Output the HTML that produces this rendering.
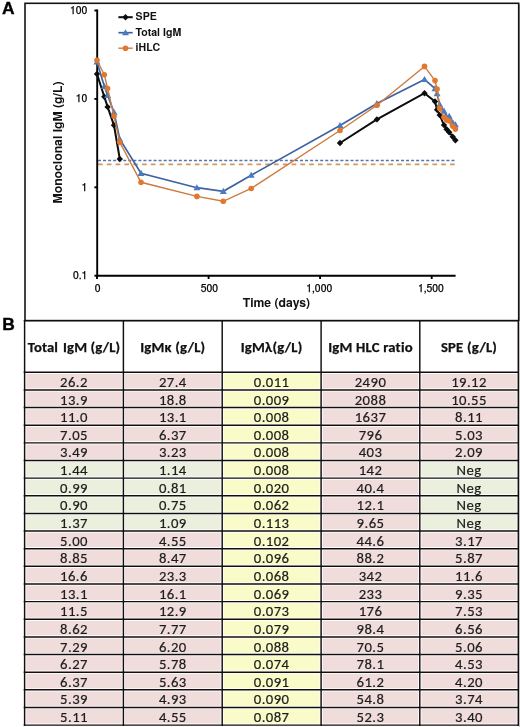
<!DOCTYPE html>
<html><head><meta charset="utf-8"><title>Monoclonal IgM over time</title>
<style>
html,body{margin:0;padding:0;background:#fff;}
body{width:520px;height:727px;position:relative;overflow:hidden;}
.pl{font:bold 17.4px "Liberation Sans",Arial,sans-serif;fill:#000;stroke:#000;stroke-width:0.35px}
.tk{font:10.4px "TeX Gyre Heros","Liberation Sans",Arial,sans-serif;fill:#000;stroke:#000;stroke-width:0.25px}
.ax{font:bold 12.2px "TeX Gyre Heros","Liberation Sans",Arial,sans-serif;fill:#111}
.lg{font:bold 10.6px "TeX Gyre Heros","Liberation Sans",Arial,sans-serif;fill:#111}
.th{font:bold 14.7px Carlito,"Liberation Sans",sans-serif;letter-spacing:0.2px;fill:#111;stroke:#111;stroke-width:0.25px}
.td{font:14.7px Carlito,"Liberation Sans",sans-serif;letter-spacing:0.45px;fill:#1c1c1c;stroke:#1c1c1c;stroke-width:0.2px}
</style></head>
<body>
<svg width="520" height="727" viewBox="0 0 520 727" style="position:absolute;left:0;top:0">
<text x="2.0" y="14.35" class="pl">A</text>
<text x="2.2" y="330.3" class="pl">B</text>
<rect x="25" y="3.3" width="493.7" height="317.3" fill="none" stroke="#141414" stroke-width="1.6"/>
<line x1="97" y1="160.5" x2="455.6" y2="160.5" stroke="#5276b0" stroke-width="1.6" stroke-dasharray="3 2.05" stroke-dashoffset="-1"/>
<line x1="97" y1="164.4" x2="455.6" y2="164.4" stroke="#d4965e" stroke-width="1.6" stroke-dasharray="4.7 4.1" stroke-dashoffset="-1"/>
<g stroke="#000" stroke-width="1.9" fill="none">
<line x1="97.2" y1="9.6" x2="97.2" y2="276.6"/>
<line x1="96.3" y1="275.7" x2="455.6" y2="275.7"/>
<line x1="94.4" y1="275.7" x2="97.2" y2="275.7"/>
<line x1="94.4" y1="187.3" x2="97.2" y2="187.3"/>
<line x1="94.4" y1="98.9" x2="97.2" y2="98.9"/>
<line x1="94.4" y1="10.5" x2="97.2" y2="10.5"/>
<line x1="97.0" y1="275.7" x2="97.0" y2="279"/>
<line x1="208.6" y1="275.7" x2="208.6" y2="279"/>
<line x1="320.1" y1="275.7" x2="320.1" y2="279"/>
<line x1="431.7" y1="275.7" x2="431.7" y2="279"/>
</g>
<text x="87.4" y="13.8" class="tk" text-anchor="end">100</text>
<text x="87.4" y="102.2" class="tk" text-anchor="end">10</text>
<text x="87.4" y="190.6" class="tk" text-anchor="end">1</text>
<text x="87.4" y="279.1" class="tk" text-anchor="end">0.1</text>
<text x="97.6" y="291.9" class="tk" text-anchor="middle">0</text>
<text x="209.3" y="291.9" class="tk" text-anchor="middle">500</text>
<text x="319.2" y="291.9" class="tk" text-anchor="middle">1,000</text>
<text x="430.9" y="291.9" class="tk" text-anchor="middle">1,500</text>
<text x="276.4" y="307" class="ax" text-anchor="middle">Time (days)</text>
<text transform="translate(62.2 142.5) rotate(-90)" class="ax" text-anchor="middle">Monoclonal IgM (g/L)</text>
<polyline points="97.0,74.0 104.3,96.8 107.6,106.9 114.0,125.3 119.8,159.0" fill="none" stroke="#0d0d0d" stroke-width="2.0"/>
<polyline points="340.0,143.0 376.9,119.4 424.5,93.2 435.0,101.5 437.1,109.8 439.7,115.1 444.0,125.1 446.6,129.3 449.2,132.2 452.7,136.7 455.4,140.3" fill="none" stroke="#0d0d0d" stroke-width="2.0"/>
<g fill="#0d0d0d"><path d="M97.0 70.8L100.2 74.0L97.0 77.2L93.8 74.0Z"/><path d="M104.3 93.6L107.5 96.8L104.3 100.0L101.1 96.8Z"/><path d="M107.6 103.7L110.8 106.9L107.6 110.1L104.4 106.9Z"/><path d="M114.0 122.1L117.2 125.3L114.0 128.5L110.8 125.3Z"/><path d="M119.8 155.8L123.0 159.0L119.8 162.2L116.6 159.0Z"/><path d="M340.0 139.8L343.2 143.0L340.0 146.2L336.8 143.0Z"/><path d="M376.9 116.2L380.1 119.4L376.9 122.6L373.7 119.4Z"/><path d="M424.5 90.0L427.7 93.2L424.5 96.4L421.3 93.2Z"/><path d="M435.0 98.3L438.2 101.5L435.0 104.7L431.8 101.5Z"/><path d="M437.1 106.6L440.3 109.8L437.1 113.0L433.9 109.8Z"/><path d="M439.7 111.9L442.9 115.1L439.7 118.3L436.5 115.1Z"/><path d="M444.0 121.9L447.2 125.1L444.0 128.3L440.8 125.1Z"/><path d="M446.6 126.1L449.8 129.3L446.6 132.5L443.4 129.3Z"/><path d="M449.2 129.0L452.4 132.2L449.2 135.4L446.0 132.2Z"/><path d="M452.7 133.5L455.9 136.7L452.7 139.9L449.5 136.7Z"/><path d="M455.4 137.1L458.6 140.3L455.4 143.5L452.2 140.3Z"/></g>
<polyline points="97.0,61.9 104.3,86.3 107.6,95.2 114.0,112.3 119.8,139.3 141.0,173.3 196.9,187.7 223.3,191.3 251.2,175.2 340.0,125.5 376.9,103.6 424.5,79.4 435.0,88.5 437.1,93.5 439.7,104.6 444.0,111.0 446.6,116.8 449.2,116.2 452.7,122.6 455.4,124.7" fill="none" stroke="#3d62a3" stroke-width="1.7"/>
<g fill="#4a7bbd"><path d="M97.0 58.4L100.5 64.5L93.5 64.5Z"/><path d="M104.3 82.8L107.8 88.9L100.8 88.9Z"/><path d="M107.6 91.7L111.1 97.9L104.1 97.9Z"/><path d="M114.0 108.8L117.5 114.9L110.5 114.9Z"/><path d="M119.8 135.8L123.3 141.9L116.3 141.9Z"/><path d="M141.0 169.8L144.5 175.9L137.5 175.9Z"/><path d="M196.9 184.2L200.4 190.3L193.4 190.3Z"/><path d="M223.3 187.8L226.8 194.0L219.8 194.0Z"/><path d="M251.2 171.7L254.7 177.8L247.7 177.8Z"/><path d="M340.0 122.0L343.5 128.1L336.5 128.1Z"/><path d="M376.9 100.1L380.4 106.2L373.4 106.2Z"/><path d="M424.5 75.9L428.0 82.1L421.0 82.1Z"/><path d="M435.0 85.0L438.5 91.2L431.5 91.2Z"/><path d="M437.1 90.0L440.6 96.2L433.6 96.2Z"/><path d="M439.7 101.1L443.2 107.2L436.2 107.2Z"/><path d="M444.0 107.5L447.5 113.7L440.5 113.7Z"/><path d="M446.6 113.3L450.1 119.4L443.1 119.4Z"/><path d="M449.2 112.7L452.7 118.8L445.7 118.8Z"/><path d="M452.7 119.1L456.2 125.3L449.2 125.3Z"/><path d="M455.4 121.2L458.9 127.3L451.9 127.3Z"/></g>
<polyline points="97.0,60.2 104.3,74.7 107.6,88.5 114.0,116.2 119.8,142.3 141.0,182.3 196.9,196.4 223.3,201.3 251.2,188.5 340.0,130.5 376.9,105.3 424.5,66.4 435.0,80.6 437.1,89.1 439.7,108.6 444.0,117.3 446.6,119.9 449.2,121.0 452.7,126.1 455.4,129.1" fill="none" stroke="#cc7b3e" stroke-width="1.4"/>
<g fill="#e3772c"><circle cx="97.0" cy="60.2" r="2.8"/><circle cx="104.3" cy="74.7" r="2.8"/><circle cx="107.6" cy="88.5" r="2.8"/><circle cx="114.0" cy="116.2" r="2.8"/><circle cx="119.8" cy="142.3" r="2.8"/><circle cx="141.0" cy="182.3" r="2.8"/><circle cx="196.9" cy="196.4" r="2.8"/><circle cx="223.3" cy="201.3" r="2.8"/><circle cx="251.2" cy="188.5" r="2.8"/><circle cx="340.0" cy="130.5" r="2.8"/><circle cx="376.9" cy="105.3" r="2.8"/><circle cx="424.5" cy="66.4" r="2.8"/><circle cx="435.0" cy="80.6" r="2.8"/><circle cx="437.1" cy="89.1" r="2.8"/><circle cx="439.7" cy="108.6" r="2.8"/><circle cx="444.0" cy="117.3" r="2.8"/><circle cx="446.6" cy="119.9" r="2.8"/><circle cx="449.2" cy="121.0" r="2.8"/><circle cx="452.7" cy="126.1" r="2.8"/><circle cx="455.4" cy="129.1" r="2.8"/></g>
<line x1="118.4" y1="17.2" x2="132.7" y2="17.2" stroke="#0d0d0d" stroke-width="2.0"/>
<g fill="#0d0d0d"><path d="M125.5 14.0L128.7 17.2L125.5 20.4L122.3 17.2Z"/></g>
<text x="135.6" y="20.3" class="lg">SPE</text>
<line x1="118.4" y1="32.7" x2="132.7" y2="32.7" stroke="#3d62a3" stroke-width="1.7"/>
<g fill="#4a7bbd"><path d="M125.5 29.2L129.0 35.3L122.0 35.3Z"/></g>
<text x="135.6" y="35.8" class="lg">Total IgM</text>
<line x1="118.4" y1="48.2" x2="132.7" y2="48.2" stroke="#cc7b3e" stroke-width="1.4"/>
<g fill="#e3772c"><circle cx="125.5" cy="48.2" r="2.8"/></g>
<text x="135.6" y="51.3" class="lg">iHLC</text>
<rect x="26.20" y="373.90" width="95.60" height="14.44" fill="#f1dcdc"/>
<rect x="125.00" y="373.90" width="95.60" height="14.44" fill="#f1dcdc"/>
<rect x="223.80" y="373.90" width="95.70" height="14.44" fill="#f9fcc9"/>
<rect x="322.70" y="373.90" width="95.50" height="14.44" fill="#f1dcdc"/>
<rect x="421.40" y="373.90" width="95.30" height="14.44" fill="#f1dcdc"/>
<rect x="26.20" y="391.54" width="95.60" height="14.44" fill="#f1dcdc"/>
<rect x="125.00" y="391.54" width="95.60" height="14.44" fill="#f1dcdc"/>
<rect x="223.80" y="391.54" width="95.70" height="14.44" fill="#f9fcc9"/>
<rect x="322.70" y="391.54" width="95.50" height="14.44" fill="#f1dcdc"/>
<rect x="421.40" y="391.54" width="95.30" height="14.44" fill="#f1dcdc"/>
<rect x="26.20" y="409.18" width="95.60" height="14.44" fill="#f1dcdc"/>
<rect x="125.00" y="409.18" width="95.60" height="14.44" fill="#f1dcdc"/>
<rect x="223.80" y="409.18" width="95.70" height="14.44" fill="#f9fcc9"/>
<rect x="322.70" y="409.18" width="95.50" height="14.44" fill="#f1dcdc"/>
<rect x="421.40" y="409.18" width="95.30" height="14.44" fill="#f1dcdc"/>
<rect x="26.20" y="426.82" width="95.60" height="14.44" fill="#f1dcdc"/>
<rect x="125.00" y="426.82" width="95.60" height="14.44" fill="#f1dcdc"/>
<rect x="223.80" y="426.82" width="95.70" height="14.44" fill="#f9fcc9"/>
<rect x="322.70" y="426.82" width="95.50" height="14.44" fill="#f1dcdc"/>
<rect x="421.40" y="426.82" width="95.30" height="14.44" fill="#f1dcdc"/>
<rect x="26.20" y="444.46" width="95.60" height="14.44" fill="#f1dcdc"/>
<rect x="125.00" y="444.46" width="95.60" height="14.44" fill="#f1dcdc"/>
<rect x="223.80" y="444.46" width="95.70" height="14.44" fill="#f9fcc9"/>
<rect x="322.70" y="444.46" width="95.50" height="14.44" fill="#f1dcdc"/>
<rect x="421.40" y="444.46" width="95.30" height="14.44" fill="#f1dcdc"/>
<rect x="26.20" y="462.10" width="95.60" height="14.44" fill="#ebefde"/>
<rect x="125.00" y="462.10" width="95.60" height="14.44" fill="#ebefde"/>
<rect x="223.80" y="462.10" width="95.70" height="14.44" fill="#f9fcc9"/>
<rect x="322.70" y="462.10" width="95.50" height="14.44" fill="#f1dcdc"/>
<rect x="421.40" y="462.10" width="95.30" height="14.44" fill="#ebefde"/>
<rect x="26.20" y="479.74" width="95.60" height="14.44" fill="#ebefde"/>
<rect x="125.00" y="479.74" width="95.60" height="14.44" fill="#ebefde"/>
<rect x="223.80" y="479.74" width="95.70" height="14.44" fill="#f9fcc9"/>
<rect x="322.70" y="479.74" width="95.50" height="14.44" fill="#f1dcdc"/>
<rect x="421.40" y="479.74" width="95.30" height="14.44" fill="#ebefde"/>
<rect x="26.20" y="497.38" width="95.60" height="14.44" fill="#ebefde"/>
<rect x="125.00" y="497.38" width="95.60" height="14.44" fill="#ebefde"/>
<rect x="223.80" y="497.38" width="95.70" height="14.44" fill="#f9fcc9"/>
<rect x="322.70" y="497.38" width="95.50" height="14.44" fill="#f1dcdc"/>
<rect x="421.40" y="497.38" width="95.30" height="14.44" fill="#ebefde"/>
<rect x="26.20" y="515.02" width="95.60" height="14.44" fill="#ebefde"/>
<rect x="125.00" y="515.02" width="95.60" height="14.44" fill="#ebefde"/>
<rect x="223.80" y="515.02" width="95.70" height="14.44" fill="#f9fcc9"/>
<rect x="322.70" y="515.02" width="95.50" height="14.44" fill="#f1dcdc"/>
<rect x="421.40" y="515.02" width="95.30" height="14.44" fill="#ebefde"/>
<rect x="26.20" y="532.66" width="95.60" height="14.44" fill="#f1dcdc"/>
<rect x="125.00" y="532.66" width="95.60" height="14.44" fill="#f1dcdc"/>
<rect x="223.80" y="532.66" width="95.70" height="14.44" fill="#f9fcc9"/>
<rect x="322.70" y="532.66" width="95.50" height="14.44" fill="#f1dcdc"/>
<rect x="421.40" y="532.66" width="95.30" height="14.44" fill="#f1dcdc"/>
<rect x="26.20" y="550.30" width="95.60" height="14.44" fill="#f1dcdc"/>
<rect x="125.00" y="550.30" width="95.60" height="14.44" fill="#f1dcdc"/>
<rect x="223.80" y="550.30" width="95.70" height="14.44" fill="#f9fcc9"/>
<rect x="322.70" y="550.30" width="95.50" height="14.44" fill="#f1dcdc"/>
<rect x="421.40" y="550.30" width="95.30" height="14.44" fill="#f1dcdc"/>
<rect x="26.20" y="567.94" width="95.60" height="14.44" fill="#f1dcdc"/>
<rect x="125.00" y="567.94" width="95.60" height="14.44" fill="#f1dcdc"/>
<rect x="223.80" y="567.94" width="95.70" height="14.44" fill="#f9fcc9"/>
<rect x="322.70" y="567.94" width="95.50" height="14.44" fill="#f1dcdc"/>
<rect x="421.40" y="567.94" width="95.30" height="14.44" fill="#f1dcdc"/>
<rect x="26.20" y="585.58" width="95.60" height="14.44" fill="#f1dcdc"/>
<rect x="125.00" y="585.58" width="95.60" height="14.44" fill="#f1dcdc"/>
<rect x="223.80" y="585.58" width="95.70" height="14.44" fill="#f9fcc9"/>
<rect x="322.70" y="585.58" width="95.50" height="14.44" fill="#f1dcdc"/>
<rect x="421.40" y="585.58" width="95.30" height="14.44" fill="#f1dcdc"/>
<rect x="26.20" y="603.22" width="95.60" height="14.44" fill="#f1dcdc"/>
<rect x="125.00" y="603.22" width="95.60" height="14.44" fill="#f1dcdc"/>
<rect x="223.80" y="603.22" width="95.70" height="14.44" fill="#f9fcc9"/>
<rect x="322.70" y="603.22" width="95.50" height="14.44" fill="#f1dcdc"/>
<rect x="421.40" y="603.22" width="95.30" height="14.44" fill="#f1dcdc"/>
<rect x="26.20" y="620.86" width="95.60" height="14.44" fill="#f1dcdc"/>
<rect x="125.00" y="620.86" width="95.60" height="14.44" fill="#f1dcdc"/>
<rect x="223.80" y="620.86" width="95.70" height="14.44" fill="#f9fcc9"/>
<rect x="322.70" y="620.86" width="95.50" height="14.44" fill="#f1dcdc"/>
<rect x="421.40" y="620.86" width="95.30" height="14.44" fill="#f1dcdc"/>
<rect x="26.20" y="638.50" width="95.60" height="14.44" fill="#f1dcdc"/>
<rect x="125.00" y="638.50" width="95.60" height="14.44" fill="#f1dcdc"/>
<rect x="223.80" y="638.50" width="95.70" height="14.44" fill="#f9fcc9"/>
<rect x="322.70" y="638.50" width="95.50" height="14.44" fill="#f1dcdc"/>
<rect x="421.40" y="638.50" width="95.30" height="14.44" fill="#f1dcdc"/>
<rect x="26.20" y="656.14" width="95.60" height="14.44" fill="#f1dcdc"/>
<rect x="125.00" y="656.14" width="95.60" height="14.44" fill="#f1dcdc"/>
<rect x="223.80" y="656.14" width="95.70" height="14.44" fill="#f9fcc9"/>
<rect x="322.70" y="656.14" width="95.50" height="14.44" fill="#f1dcdc"/>
<rect x="421.40" y="656.14" width="95.30" height="14.44" fill="#f1dcdc"/>
<rect x="26.20" y="673.78" width="95.60" height="14.44" fill="#f1dcdc"/>
<rect x="125.00" y="673.78" width="95.60" height="14.44" fill="#f1dcdc"/>
<rect x="223.80" y="673.78" width="95.70" height="14.44" fill="#f9fcc9"/>
<rect x="322.70" y="673.78" width="95.50" height="14.44" fill="#f1dcdc"/>
<rect x="421.40" y="673.78" width="95.30" height="14.44" fill="#f1dcdc"/>
<rect x="26.20" y="691.42" width="95.60" height="14.44" fill="#f1dcdc"/>
<rect x="125.00" y="691.42" width="95.60" height="14.44" fill="#f1dcdc"/>
<rect x="223.80" y="691.42" width="95.70" height="14.44" fill="#f9fcc9"/>
<rect x="322.70" y="691.42" width="95.50" height="14.44" fill="#f1dcdc"/>
<rect x="421.40" y="691.42" width="95.30" height="14.44" fill="#f1dcdc"/>
<rect x="26.20" y="709.06" width="95.60" height="14.44" fill="#f1dcdc"/>
<rect x="125.00" y="709.06" width="95.60" height="14.44" fill="#f1dcdc"/>
<rect x="223.80" y="709.06" width="95.70" height="14.44" fill="#f9fcc9"/>
<rect x="322.70" y="709.06" width="95.50" height="14.44" fill="#f1dcdc"/>
<rect x="421.40" y="709.06" width="95.30" height="14.44" fill="#f1dcdc"/>
<g stroke="#120e0e" stroke-width="1.45">
<line x1="24.60" y1="320.60" x2="24.60" y2="726.00"/>
<line x1="123.40" y1="320.60" x2="123.40" y2="726.00"/>
<line x1="222.20" y1="320.60" x2="222.20" y2="726.00"/>
<line x1="321.10" y1="320.60" x2="321.10" y2="726.00"/>
<line x1="419.80" y1="320.60" x2="419.80" y2="726.00"/>
<line x1="518.30" y1="320.60" x2="518.30" y2="726.00"/>
<line x1="23.70" y1="320.60" x2="519.20" y2="320.60"/>
<line x1="23.70" y1="372.30" x2="519.20" y2="372.30"/>
<line x1="23.70" y1="389.94" x2="519.20" y2="389.94"/>
<line x1="23.70" y1="407.58" x2="519.20" y2="407.58"/>
<line x1="23.70" y1="425.22" x2="519.20" y2="425.22"/>
<line x1="23.70" y1="442.86" x2="519.20" y2="442.86"/>
<line x1="23.70" y1="460.50" x2="519.20" y2="460.50"/>
<line x1="23.70" y1="478.14" x2="519.20" y2="478.14"/>
<line x1="23.70" y1="495.78" x2="519.20" y2="495.78"/>
<line x1="23.70" y1="513.42" x2="519.20" y2="513.42"/>
<line x1="23.70" y1="531.06" x2="519.20" y2="531.06"/>
<line x1="23.70" y1="548.70" x2="519.20" y2="548.70"/>
<line x1="23.70" y1="566.34" x2="519.20" y2="566.34"/>
<line x1="23.70" y1="583.98" x2="519.20" y2="583.98"/>
<line x1="23.70" y1="601.62" x2="519.20" y2="601.62"/>
<line x1="23.70" y1="619.26" x2="519.20" y2="619.26"/>
<line x1="23.70" y1="636.90" x2="519.20" y2="636.90"/>
<line x1="23.70" y1="654.54" x2="519.20" y2="654.54"/>
<line x1="23.70" y1="672.18" x2="519.20" y2="672.18"/>
<line x1="23.70" y1="689.82" x2="519.20" y2="689.82"/>
<line x1="23.70" y1="707.46" x2="519.20" y2="707.46"/>
<line x1="23.70" y1="725.10" x2="519.20" y2="725.10"/>
</g>
<text x="74.0" y="352.2" class="th" text-anchor="middle" style="letter-spacing:0.1px" textLength="92.32" lengthAdjust="spacingAndGlyphs">Total<tspan dx="1.6"> IgM (g/L)</tspan></text>
<text x="172.8" y="352.2" class="th" text-anchor="middle" textLength="65.16" lengthAdjust="spacingAndGlyphs">IgMκ (g/L)</text>
<text x="271.6" y="352.2" class="th" text-anchor="middle" textLength="61.73" lengthAdjust="spacingAndGlyphs">IgMλ(g/L)</text>
<text x="370.5" y="352.2" class="th" text-anchor="middle" textLength="84.64" lengthAdjust="spacingAndGlyphs">IgM HLC ratio</text>
<text x="469.0" y="352.2" class="th" text-anchor="middle" textLength="56.19" lengthAdjust="spacingAndGlyphs">SPE (g/L)</text>
<text x="74.0" y="386.90" class="td" text-anchor="middle" textLength="27.84" lengthAdjust="spacingAndGlyphs">26.2</text>
<text x="172.8" y="386.90" class="td" text-anchor="middle" textLength="27.84" lengthAdjust="spacingAndGlyphs">27.4</text>
<text x="271.6" y="386.90" class="td" text-anchor="middle" textLength="35.73" lengthAdjust="spacingAndGlyphs">0.011</text>
<text x="370.5" y="386.90" class="td" text-anchor="middle" textLength="31.58" lengthAdjust="spacingAndGlyphs">2490</text>
<text x="469.0" y="386.90" class="td" text-anchor="middle" textLength="35.73" lengthAdjust="spacingAndGlyphs">19.12</text>
<text x="74.0" y="404.54" class="td" text-anchor="middle" textLength="27.84" lengthAdjust="spacingAndGlyphs">13.9</text>
<text x="172.8" y="404.54" class="td" text-anchor="middle" textLength="27.84" lengthAdjust="spacingAndGlyphs">18.8</text>
<text x="271.6" y="404.54" class="td" text-anchor="middle" textLength="35.73" lengthAdjust="spacingAndGlyphs">0.009</text>
<text x="370.5" y="404.54" class="td" text-anchor="middle" textLength="31.58" lengthAdjust="spacingAndGlyphs">2088</text>
<text x="469.0" y="404.54" class="td" text-anchor="middle" textLength="35.73" lengthAdjust="spacingAndGlyphs">10.55</text>
<text x="74.0" y="422.18" class="td" text-anchor="middle" textLength="27.84" lengthAdjust="spacingAndGlyphs">11.0</text>
<text x="172.8" y="422.18" class="td" text-anchor="middle" textLength="27.84" lengthAdjust="spacingAndGlyphs">13.1</text>
<text x="271.6" y="422.18" class="td" text-anchor="middle" textLength="35.73" lengthAdjust="spacingAndGlyphs">0.008</text>
<text x="370.5" y="422.18" class="td" text-anchor="middle" textLength="31.58" lengthAdjust="spacingAndGlyphs">1637</text>
<text x="469.0" y="422.18" class="td" text-anchor="middle" textLength="27.84" lengthAdjust="spacingAndGlyphs">8.11</text>
<text x="74.0" y="439.82" class="td" text-anchor="middle" textLength="27.84" lengthAdjust="spacingAndGlyphs">7.05</text>
<text x="172.8" y="439.82" class="td" text-anchor="middle" textLength="27.84" lengthAdjust="spacingAndGlyphs">6.37</text>
<text x="271.6" y="439.82" class="td" text-anchor="middle" textLength="35.73" lengthAdjust="spacingAndGlyphs">0.008</text>
<text x="370.5" y="439.82" class="td" text-anchor="middle" textLength="23.69" lengthAdjust="spacingAndGlyphs">796</text>
<text x="469.0" y="439.82" class="td" text-anchor="middle" textLength="27.84" lengthAdjust="spacingAndGlyphs">5.03</text>
<text x="74.0" y="457.46" class="td" text-anchor="middle" textLength="27.84" lengthAdjust="spacingAndGlyphs">3.49</text>
<text x="172.8" y="457.46" class="td" text-anchor="middle" textLength="27.84" lengthAdjust="spacingAndGlyphs">3.23</text>
<text x="271.6" y="457.46" class="td" text-anchor="middle" textLength="35.73" lengthAdjust="spacingAndGlyphs">0.008</text>
<text x="370.5" y="457.46" class="td" text-anchor="middle" textLength="23.69" lengthAdjust="spacingAndGlyphs">403</text>
<text x="469.0" y="457.46" class="td" text-anchor="middle" textLength="27.84" lengthAdjust="spacingAndGlyphs">2.09</text>
<text x="74.0" y="475.10" class="td" text-anchor="middle" textLength="27.84" lengthAdjust="spacingAndGlyphs">1.44</text>
<text x="172.8" y="475.10" class="td" text-anchor="middle" textLength="27.84" lengthAdjust="spacingAndGlyphs">1.14</text>
<text x="271.6" y="475.10" class="td" text-anchor="middle" textLength="35.73" lengthAdjust="spacingAndGlyphs">0.008</text>
<text x="370.5" y="475.10" class="td" text-anchor="middle" textLength="23.69" lengthAdjust="spacingAndGlyphs">142</text>
<text x="469.0" y="475.10" class="td" text-anchor="middle" textLength="25.06" lengthAdjust="spacingAndGlyphs">Neg</text>
<text x="74.0" y="492.74" class="td" text-anchor="middle" textLength="27.84" lengthAdjust="spacingAndGlyphs">0.99</text>
<text x="172.8" y="492.74" class="td" text-anchor="middle" textLength="27.84" lengthAdjust="spacingAndGlyphs">0.81</text>
<text x="271.6" y="492.74" class="td" text-anchor="middle" textLength="35.73" lengthAdjust="spacingAndGlyphs">0.020</text>
<text x="370.5" y="492.74" class="td" text-anchor="middle" textLength="27.84" lengthAdjust="spacingAndGlyphs">40.4</text>
<text x="469.0" y="492.74" class="td" text-anchor="middle" textLength="25.06" lengthAdjust="spacingAndGlyphs">Neg</text>
<text x="74.0" y="510.38" class="td" text-anchor="middle" textLength="27.84" lengthAdjust="spacingAndGlyphs">0.90</text>
<text x="172.8" y="510.38" class="td" text-anchor="middle" textLength="27.84" lengthAdjust="spacingAndGlyphs">0.75</text>
<text x="271.6" y="510.38" class="td" text-anchor="middle" textLength="35.73" lengthAdjust="spacingAndGlyphs">0.062</text>
<text x="370.5" y="510.38" class="td" text-anchor="middle" textLength="27.84" lengthAdjust="spacingAndGlyphs">12.1</text>
<text x="469.0" y="510.38" class="td" text-anchor="middle" textLength="25.06" lengthAdjust="spacingAndGlyphs">Neg</text>
<text x="74.0" y="528.02" class="td" text-anchor="middle" textLength="27.84" lengthAdjust="spacingAndGlyphs">1.37</text>
<text x="172.8" y="528.02" class="td" text-anchor="middle" textLength="27.84" lengthAdjust="spacingAndGlyphs">1.09</text>
<text x="271.6" y="528.02" class="td" text-anchor="middle" textLength="35.73" lengthAdjust="spacingAndGlyphs">0.113</text>
<text x="370.5" y="528.02" class="td" text-anchor="middle" textLength="27.84" lengthAdjust="spacingAndGlyphs">9.65</text>
<text x="469.0" y="528.02" class="td" text-anchor="middle" textLength="25.06" lengthAdjust="spacingAndGlyphs">Neg</text>
<text x="74.0" y="545.66" class="td" text-anchor="middle" textLength="27.84" lengthAdjust="spacingAndGlyphs">5.00</text>
<text x="172.8" y="545.66" class="td" text-anchor="middle" textLength="27.84" lengthAdjust="spacingAndGlyphs">4.55</text>
<text x="271.6" y="545.66" class="td" text-anchor="middle" textLength="35.73" lengthAdjust="spacingAndGlyphs">0.102</text>
<text x="370.5" y="545.66" class="td" text-anchor="middle" textLength="27.84" lengthAdjust="spacingAndGlyphs">44.6</text>
<text x="469.0" y="545.66" class="td" text-anchor="middle" textLength="27.84" lengthAdjust="spacingAndGlyphs">3.17</text>
<text x="74.0" y="563.30" class="td" text-anchor="middle" textLength="27.84" lengthAdjust="spacingAndGlyphs">8.85</text>
<text x="172.8" y="563.30" class="td" text-anchor="middle" textLength="27.84" lengthAdjust="spacingAndGlyphs">8.47</text>
<text x="271.6" y="563.30" class="td" text-anchor="middle" textLength="35.73" lengthAdjust="spacingAndGlyphs">0.096</text>
<text x="370.5" y="563.30" class="td" text-anchor="middle" textLength="27.84" lengthAdjust="spacingAndGlyphs">88.2</text>
<text x="469.0" y="563.30" class="td" text-anchor="middle" textLength="27.84" lengthAdjust="spacingAndGlyphs">5.87</text>
<text x="74.0" y="580.94" class="td" text-anchor="middle" textLength="27.84" lengthAdjust="spacingAndGlyphs">16.6</text>
<text x="172.8" y="580.94" class="td" text-anchor="middle" textLength="27.84" lengthAdjust="spacingAndGlyphs">23.3</text>
<text x="271.6" y="580.94" class="td" text-anchor="middle" textLength="35.73" lengthAdjust="spacingAndGlyphs">0.068</text>
<text x="370.5" y="580.94" class="td" text-anchor="middle" textLength="23.69" lengthAdjust="spacingAndGlyphs">342</text>
<text x="469.0" y="580.94" class="td" text-anchor="middle" textLength="27.84" lengthAdjust="spacingAndGlyphs">11.6</text>
<text x="74.0" y="598.58" class="td" text-anchor="middle" textLength="27.84" lengthAdjust="spacingAndGlyphs">13.1</text>
<text x="172.8" y="598.58" class="td" text-anchor="middle" textLength="27.84" lengthAdjust="spacingAndGlyphs">16.1</text>
<text x="271.6" y="598.58" class="td" text-anchor="middle" textLength="35.73" lengthAdjust="spacingAndGlyphs">0.069</text>
<text x="370.5" y="598.58" class="td" text-anchor="middle" textLength="23.69" lengthAdjust="spacingAndGlyphs">233</text>
<text x="469.0" y="598.58" class="td" text-anchor="middle" textLength="27.84" lengthAdjust="spacingAndGlyphs">9.35</text>
<text x="74.0" y="616.22" class="td" text-anchor="middle" textLength="27.84" lengthAdjust="spacingAndGlyphs">11.5</text>
<text x="172.8" y="616.22" class="td" text-anchor="middle" textLength="27.84" lengthAdjust="spacingAndGlyphs">12.9</text>
<text x="271.6" y="616.22" class="td" text-anchor="middle" textLength="35.73" lengthAdjust="spacingAndGlyphs">0.073</text>
<text x="370.5" y="616.22" class="td" text-anchor="middle" textLength="23.69" lengthAdjust="spacingAndGlyphs">176</text>
<text x="469.0" y="616.22" class="td" text-anchor="middle" textLength="27.84" lengthAdjust="spacingAndGlyphs">7.53</text>
<text x="74.0" y="633.86" class="td" text-anchor="middle" textLength="27.84" lengthAdjust="spacingAndGlyphs">8.62</text>
<text x="172.8" y="633.86" class="td" text-anchor="middle" textLength="27.84" lengthAdjust="spacingAndGlyphs">7.77</text>
<text x="271.6" y="633.86" class="td" text-anchor="middle" textLength="35.73" lengthAdjust="spacingAndGlyphs">0.079</text>
<text x="370.5" y="633.86" class="td" text-anchor="middle" textLength="27.84" lengthAdjust="spacingAndGlyphs">98.4</text>
<text x="469.0" y="633.86" class="td" text-anchor="middle" textLength="27.84" lengthAdjust="spacingAndGlyphs">6.56</text>
<text x="74.0" y="651.50" class="td" text-anchor="middle" textLength="27.84" lengthAdjust="spacingAndGlyphs">7.29</text>
<text x="172.8" y="651.50" class="td" text-anchor="middle" textLength="27.84" lengthAdjust="spacingAndGlyphs">6.20</text>
<text x="271.6" y="651.50" class="td" text-anchor="middle" textLength="35.73" lengthAdjust="spacingAndGlyphs">0.088</text>
<text x="370.5" y="651.50" class="td" text-anchor="middle" textLength="27.84" lengthAdjust="spacingAndGlyphs">70.5</text>
<text x="469.0" y="651.50" class="td" text-anchor="middle" textLength="27.84" lengthAdjust="spacingAndGlyphs">5.06</text>
<text x="74.0" y="669.14" class="td" text-anchor="middle" textLength="27.84" lengthAdjust="spacingAndGlyphs">6.27</text>
<text x="172.8" y="669.14" class="td" text-anchor="middle" textLength="27.84" lengthAdjust="spacingAndGlyphs">5.78</text>
<text x="271.6" y="669.14" class="td" text-anchor="middle" textLength="35.73" lengthAdjust="spacingAndGlyphs">0.074</text>
<text x="370.5" y="669.14" class="td" text-anchor="middle" textLength="27.84" lengthAdjust="spacingAndGlyphs">78.1</text>
<text x="469.0" y="669.14" class="td" text-anchor="middle" textLength="27.84" lengthAdjust="spacingAndGlyphs">4.53</text>
<text x="74.0" y="686.78" class="td" text-anchor="middle" textLength="27.84" lengthAdjust="spacingAndGlyphs">6.37</text>
<text x="172.8" y="686.78" class="td" text-anchor="middle" textLength="27.84" lengthAdjust="spacingAndGlyphs">5.63</text>
<text x="271.6" y="686.78" class="td" text-anchor="middle" textLength="35.73" lengthAdjust="spacingAndGlyphs">0.091</text>
<text x="370.5" y="686.78" class="td" text-anchor="middle" textLength="27.84" lengthAdjust="spacingAndGlyphs">61.2</text>
<text x="469.0" y="686.78" class="td" text-anchor="middle" textLength="27.84" lengthAdjust="spacingAndGlyphs">4.20</text>
<text x="74.0" y="704.42" class="td" text-anchor="middle" textLength="27.84" lengthAdjust="spacingAndGlyphs">5.39</text>
<text x="172.8" y="704.42" class="td" text-anchor="middle" textLength="27.84" lengthAdjust="spacingAndGlyphs">4.93</text>
<text x="271.6" y="704.42" class="td" text-anchor="middle" textLength="35.73" lengthAdjust="spacingAndGlyphs">0.090</text>
<text x="370.5" y="704.42" class="td" text-anchor="middle" textLength="27.84" lengthAdjust="spacingAndGlyphs">54.8</text>
<text x="469.0" y="704.42" class="td" text-anchor="middle" textLength="27.84" lengthAdjust="spacingAndGlyphs">3.74</text>
<text x="74.0" y="722.06" class="td" text-anchor="middle" textLength="27.84" lengthAdjust="spacingAndGlyphs">5.11</text>
<text x="172.8" y="722.06" class="td" text-anchor="middle" textLength="27.84" lengthAdjust="spacingAndGlyphs">4.55</text>
<text x="271.6" y="722.06" class="td" text-anchor="middle" textLength="35.73" lengthAdjust="spacingAndGlyphs">0.087</text>
<text x="370.5" y="722.06" class="td" text-anchor="middle" textLength="27.84" lengthAdjust="spacingAndGlyphs">52.3</text>
<text x="469.0" y="722.06" class="td" text-anchor="middle" textLength="27.84" lengthAdjust="spacingAndGlyphs">3.40</text>
<rect x="519" y="4.5" width="1" height="316.5" fill="#666"/>
<rect x="519" y="321" width="1" height="406" fill="#c2c2c2"/>
</svg>
</body></html>
